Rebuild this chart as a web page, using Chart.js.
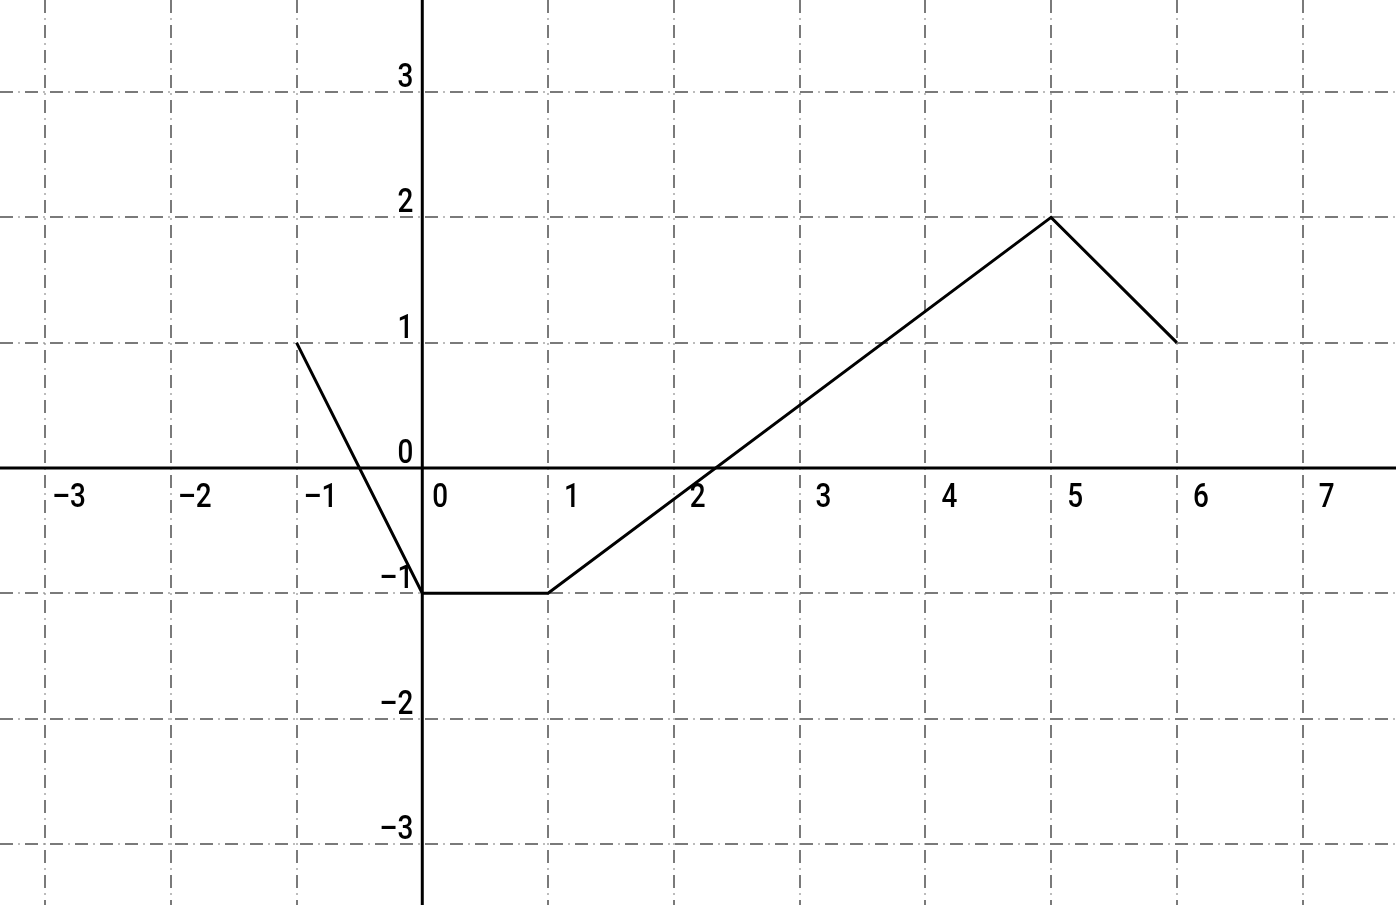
<!DOCTYPE html>
<html>
<head>
<meta charset="utf-8">
<script src="https://cdn.jsdelivr.net/npm/chart.js@4.4.0/dist/chart.umd.min.js"></script>
<style>
  html, body { margin: 0; padding: 0; background: #fff; }
  #wrap { width: 1396px; height: 905px; position: relative; }
</style>
</head>
<body>
<div id="wrap"><canvas id="c"></canvas></div>
<script>
// Data: piecewise linear function vertices
const fx = [-1, 0, 1, 5, 6];
const fy = [1, -1, -1, 2, 1];
// Tick values
const xTicks = [-3, -2, -1, 0, 1, 2, 3, 4, 5, 6, 7];
const yTicks = [-3, -2, -1, 0, 1, 2, 3];
// Visible window
const xRange = [-3.358, 7.743];
const yRange = [-3.488, 3.735];

const fnPoints = fx.map((x, i) => ({ x: x, y: fy[i] }));
const xAxisLine = [{ x: xRange[0], y: 0 }, { x: xRange[1], y: 0 }];
const yAxisLine = [{ x: 0, y: yRange[0] }, { x: 0, y: yRange[1] }];

const FONT = 'Roboto, "Liberation Sans", sans-serif';
const SQUEEZE = 0.82;
const fmt = v => (v < 0 ? '\u2013' + Math.abs(v) : String(v));

function drawLabel(ctx, text, x, y, align) {
  ctx.save();
  ctx.translate(x, y);
  ctx.scale(SQUEEZE, 1);
  ctx.textAlign = align;
  ctx.fillText(text, 0, 0);
  ctx.restore();
}

const labelPlugin = {
  id: 'axisLabels',
  afterDraw(chart) {
    const ctx = chart.ctx;
    const xs = chart.scales.x, ys = chart.scales.y;
    const x0 = xs.getPixelForValue(0), y0 = ys.getPixelForValue(0);
    ctx.save();
    ctx.fillStyle = '#000';
    ctx.font = '500 34px ' + FONT;
    ctx.textBaseline = 'alphabetic';
    xTicks.forEach(v => {
      const px = xs.getPixelForValue(v);
      if (v === 0) {
        drawLabel(ctx, fmt(v), px + 10, y0 + 39, 'left');
      } else {
        drawLabel(ctx, fmt(v), px + 24, y0 + 39, 'center');
      }
    });
    yTicks.forEach(v => {
      const py = ys.getPixelForValue(v);
      drawLabel(ctx, fmt(v), x0 - 9, py - 5, 'right');
    });
    ctx.restore();
  }
};

const gridOpts = {
  color: '#7a7a7a',
  lineWidth: 2,
  drawTicks: false
};

new Chart(document.getElementById('c'), {
  type: 'scatter',
  data: {
    datasets: [
      { data: fnPoints, showLine: true, borderColor: '#000', borderWidth: 3, pointRadius: 0, tension: 0, order: 0 },
      { data: xAxisLine, showLine: true, borderColor: '#000', borderWidth: 3, pointRadius: 0, order: 1 },
      { data: yAxisLine, showLine: true, borderColor: '#000', borderWidth: 3, pointRadius: 0, order: 1 }
    ]
  },
  options: {
    responsive: true,
    maintainAspectRatio: false,
    animation: false,
    layout: { padding: 0 },
    plugins: { legend: { display: false }, tooltip: { enabled: false } },
    scales: {
      x: {
        type: 'linear',
        min: xRange[0], max: xRange[1],
        afterBuildTicks: s => { s.ticks = xTicks.map(v => ({ value: v })); },
        ticks: { display: false },
        grid: gridOpts,
        border: { display: false, dash: [13, 5.5, 1, 5.5] }
      },
      y: {
        type: 'linear',
        min: yRange[0], max: yRange[1],
        afterBuildTicks: s => { s.ticks = yTicks.map(v => ({ value: v })); },
        ticks: { display: false },
        grid: gridOpts,
        border: { display: false, dash: [13, 5.5, 1, 5.5] }
      }
    }
  },
  plugins: [labelPlugin]
});
</script>
</body>
</html>
